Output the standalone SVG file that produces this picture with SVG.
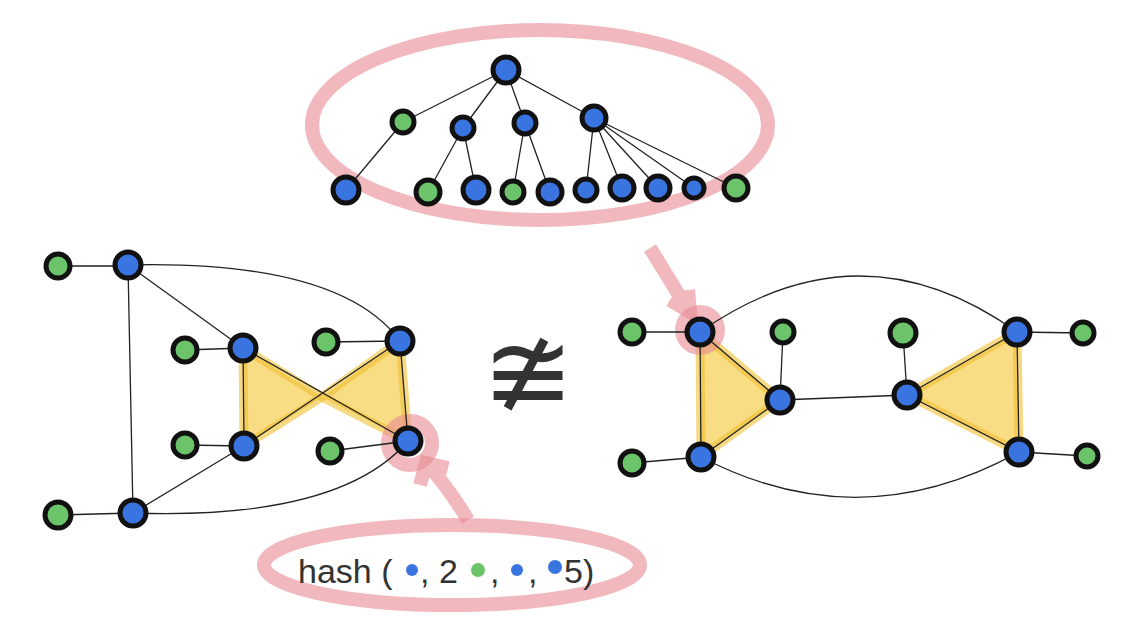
<svg xmlns="http://www.w3.org/2000/svg" width="1130" height="637" viewBox="0 0 1130 637">
<style>
.b{fill:#3a74e0;stroke:#111;stroke-width:5}
.g{fill:#6cc46a;stroke:#111;stroke-width:5}
.e{stroke:#222;stroke-width:1.3;fill:none}
.y{fill:#f7d25c;fill-opacity:.75;stroke:#f0c030;stroke-width:9;stroke-opacity:.6;stroke-linejoin:round}
.r{fill:none;stroke:#e88a92;stroke-opacity:.6;stroke-width:14}
.t{font-family:"Liberation Sans",sans-serif;fill:#333}
</style>
<rect width="1130" height="637" fill="#fff"/>
<g id="highlights">
<polygon class="y" points="243,348 244,446 322,397"/>
<polygon class="y" points="400,341 408,441 322,397"/>
<polygon class="y" points="700,332 701,457 780,400"/>
<polygon class="y" points="1017,332 1019,452 907,395"/>
<ellipse class="r" cx="540" cy="125" rx="228" ry="95"/>
<circle class="r" cx="700" cy="330" r="18" stroke-width="8"/>
<circle class="r" cx="410" cy="443" r="22" stroke-width="8"/>
<ellipse class="r" cx="452" cy="565" rx="188" ry="40" stroke-width="10"/>
<path class="r" d="M650,248 Q670,280 688,310 M670,300 L690,312 L688,290" stroke-width="10"/>
<path class="r" d="M468,520 Q450,490 428,465 M420,485 L426,463 L448,468" stroke-width="10"/>
</g>
<g id="connectors">
<path class="e" d="M58,266H128 M128,265L133,513 M128,265L243,348 M128,265Q340,260 400,341 M185,350L243,348 M326,342L400,341 M243,348L244,446 M400,341L408,441 M243,348L408,441 M400,341L244,446 M185,445L244,446 M330,451L408,441 M133,513L244,446 M133,513Q340,520 408,441 M58,515L133,513"/>
<path class="e" d="M632,332L700,332 M700,332L701,457 M700,332L780,400 M701,457L780,400 M783,332L780,400 M780,400L907,395 M903,333L907,395 M907,395L1017,332 M907,395L1019,452 M1017,332L1019,452 M1017,332L1083,333 M1019,452L1087,456 M632,463L701,457 M700,332Q860,220 1017,332 M701,457Q860,540 1019,452"/>
<path class="e" d="M506,70L403,122 M506,70L463,128 M506,70L525,123 M506,70L594,118 M403,122L346,190 M463,128L428,192 M463,128L476,190 M525,123L513,192 M525,123L550,192 M594,118L586,190 M594,118L622,188 M594,118L658,188 M594,118L694,188 M594,118L736,188"/>
</g>
<g id="n-left">
<circle class="g" cx="58" cy="266" r="12"/><circle class="b" cx="128" cy="265" r="13"/>
<circle class="g" cx="185" cy="350" r="12"/><circle class="b" cx="243" cy="348" r="13"/>
<circle class="g" cx="326" cy="342" r="12"/><circle class="b" cx="400" cy="341" r="13"/>
<circle class="g" cx="185" cy="445" r="12"/><circle class="b" cx="244" cy="446" r="13"/>
<circle class="g" cx="330" cy="451" r="12"/><circle class="b" cx="408" cy="441" r="13"/>
<circle class="g" cx="58" cy="515" r="13"/><circle class="b" cx="133" cy="513" r="13"/>
</g>
<g id="n-right">
<circle class="g" cx="632" cy="332" r="12"/><circle class="b" cx="700" cy="332" r="13"/>
<circle class="g" cx="783" cy="332" r="11"/><circle class="g" cx="903" cy="333" r="13"/>
<circle class="b" cx="1017" cy="332" r="13"/><circle class="g" cx="1083" cy="333" r="11"/>
<circle class="b" cx="780" cy="400" r="13"/><circle class="b" cx="907" cy="395" r="13"/>
<circle class="g" cx="632" cy="463" r="12"/><circle class="b" cx="701" cy="457" r="13"/>
<circle class="b" cx="1019" cy="452" r="13"/><circle class="g" cx="1087" cy="456" r="11"/>
</g>
<g id="n-tree">
<circle class="b" cx="506" cy="70" r="13"/>
<circle class="g" cx="403" cy="122" r="11"/><circle class="b" cx="463" cy="128" r="11"/>
<circle class="b" cx="525" cy="123" r="11"/><circle class="b" cx="594" cy="118" r="12"/>
<circle class="b" cx="346" cy="190" r="13"/><circle class="g" cx="428" cy="192" r="12"/>
<circle class="b" cx="476" cy="190" r="13"/><circle class="g" cx="513" cy="192" r="11"/>
<circle class="b" cx="550" cy="192" r="12"/><circle class="b" cx="586" cy="190" r="11"/>
<circle class="b" cx="622" cy="188" r="12"/><circle class="b" cx="658" cy="188" r="12"/>
<circle class="b" cx="694" cy="188" r="10"/><circle class="g" cx="736" cy="188" r="12"/>
</g>
<g id="neq"><text class="t" x="528" y="410" font-size="110" text-anchor="middle" fill="#444">≇</text></g>
<g id="hash">
<text class="t" x="298" y="583" font-size="34">hash (</text>
<circle cx="412" cy="570" r="6" fill="#3a74e0"/>
<text class="t" x="420" y="583" font-size="34">, 2</text>
<circle cx="478" cy="570" r="7" fill="#6cc46a"/>
<text class="t" x="490" y="583" font-size="34">,</text>
<circle cx="517" cy="570" r="6" fill="#3a74e0"/>
<text class="t" x="528" y="583" font-size="34">,</text>
<circle cx="555" cy="567" r="7" fill="#3a74e0"/>
<text class="t" x="564" y="583" font-size="34">5)</text>
</g>
</svg>
